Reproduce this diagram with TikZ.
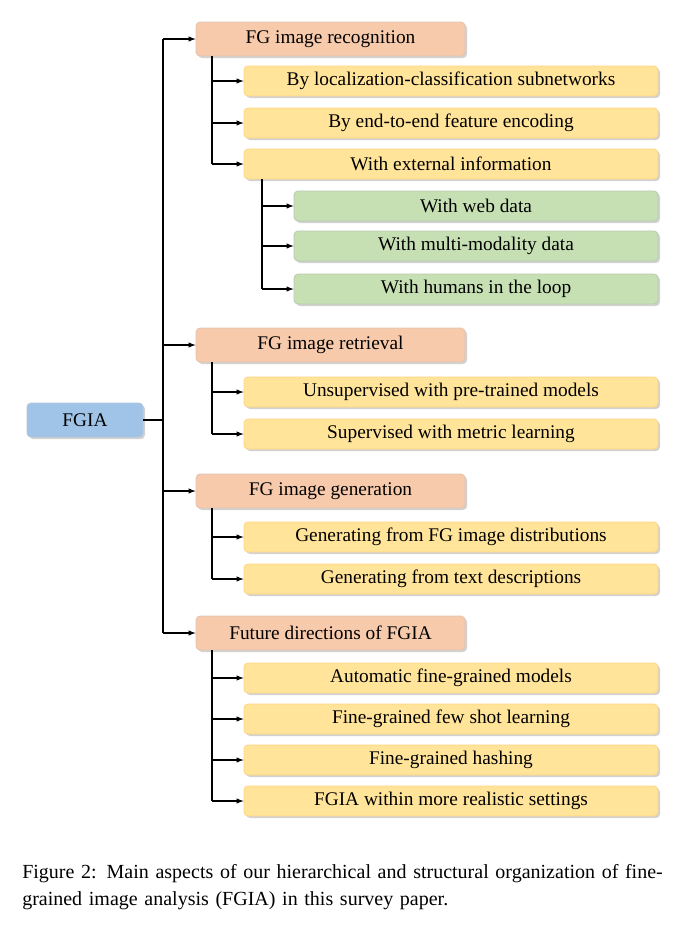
\documentclass[tikz,border=0pt]{standalone}
\usepackage{fontspec}
\setmainfont{Liberation Serif}
\usetikzlibrary{shadows,arrows}

\definecolor{rootblue}{RGB}{160,196,232}
\definecolor{secorange}{RGB}{247,202,172}
\definecolor{subyellow}{RGB}{255,228,153}
\definecolor{leafgreen}{RGB}{198,224,180}

\tikzset{
	box/.style={draw, rounded corners=3pt, line width=0.6pt, minimum height=25.5pt, inner sep=0pt,
		drop shadow={shadow xshift=1.5pt, shadow yshift=-1.5pt, fill=black!35}, font=\fontsize{14.5}{17}\selectfont},
	root/.style={box, fill=rootblue, draw=rootblue!80!black!60, minimum width=87pt},
	sec/.style={box, fill=secorange, draw=secorange!85!black!70, minimum width=201.75pt},
	sub/.style={box, fill=subyellow, draw=subyellow!85!orange, minimum width=310.5pt, minimum height=22.5pt},
	leaf/.style={box, fill=leafgreen, draw=leafgreen!80!black!70, minimum width=273pt, minimum height=22.5pt},
	link/.style={-latex, line width=0.8pt},
	rail/.style={line width=0.8pt}
}

\begin{document}
\begin{tikzpicture}[x=0.75pt, y=-0.75pt]
	\useasboundingbox (0,0) rectangle (679,933);
	% root and sections
	\node[root] (fgia) at (85,420) {FGIA};
	\node[sec] (recog) at (330.5,39) {FG image recognition};
	\node[sec] (retr) at (330.5,345) {FG image retrieval};
	\node[sec] (gen) at (330.5,491) {FG image generation};
	\node[sec] (fut) at (330.5,633) {Future directions of FGIA};
	% recognition
	\node[sub] (loc) at (451,81) {By localization-classification subnetworks};
	\node[sub] (e2e) at (451,123) {By end-to-end feature encoding};
	\node[sub] (ext) at (451,164) {With external information};
	\node[leaf] (web) at (476,206) {With web data};
	\node[leaf] (mm) at (476,246) {With multi-modality data};
	\node[leaf] (hum) at (476,289) {With humans in the loop};
	% retrieval
	\node[sub] (unsup) at (451,392) {Unsupervised with pre-trained models};
	\node[sub] (sup) at (451,434) {Supervised with metric learning};
	% generation
	\node[sub] (gdist) at (451,537) {Generating from FG image distributions};
	\node[sub] (gtext) at (451,579) {Generating from text descriptions};
	% future
	\node[sub] (auto) at (451,678) {Automatic fine-grained models};
	\node[sub] (few) at (451,719) {Fine-grained few shot learning};
	\node[sub] (hash) at (451,760) {Fine-grained hashing};
	\node[sub] (real) at (451,801) {FGIA within more realistic settings};

	% trunk
	\coordinate (t0) at (163,39);
	\coordinate (t1) at (163,633);
	\draw[rail] (fgia.east) -- (t0 |- fgia);
	\draw[rail] (t0) -- (t1);
	\foreach \s in {recog,retr,gen,fut}
		\draw[link] (t0 |- \s) -- (\s.west);
	% branches
	\coordinate (b2) at (212,0);
	\coordinate (b3) at (262,0);
	\foreach \s/\last/\kids in {recog/ext/{loc,e2e,ext}, retr/sup/{unsup,sup}, gen/gtext/{gdist,gtext}, fut/real/{auto,few,hash,real}}{
		\draw[rail] (b2 |- \s.south) -- (b2 |- \last);
		\foreach \k in \kids
			\draw[link] (b2 |- \k) -- (\k.west);
	}
	\draw[rail] (b3 |- ext.south) -- (b3 |- hum);
	\foreach \k in {web,mm,hum}
		\draw[link] (b3 |- \k) -- (\k.west);

	% caption
	\node[anchor=north west, align=left, text width=495pt, inner sep=0pt, font=\fontsize{15}{20}\selectfont] (cap) at (22,864)
		{Figure 2: Main aspects of our hierarchical and structural organization of fine-grained image analysis (FGIA) in this survey paper.};
\end{tikzpicture}
\end{document}
